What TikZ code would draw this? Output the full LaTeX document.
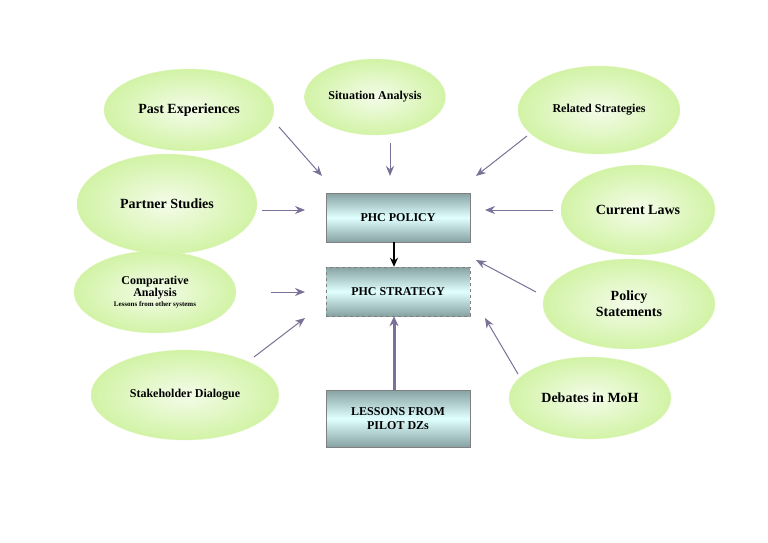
\documentclass[tikz,border=0pt]{standalone}
\usepackage{fontspec}
\setmainfont{Liberation Serif}
\usetikzlibrary{shapes.geometric,arrows.meta}
\definecolor{arr}{HTML}{7A7098}
\definecolor{ellc}{HTML}{D2F3A6}
\newcommand{\fA}{\fontsize{14}{16}\selectfont\bfseries}
\newcommand{\fB}{\fontsize{12}{14}\selectfont\bfseries}
\begin{document}
\begin{tikzpicture}[x=1pt,y=-1pt,
 ell/.style={ellipse,inner color=ellc!25,outer color=ellc,draw=ellc!70!white,line width=0.3pt,font=\fA,align=center},
 box/.style={rectangle,minimum width=144pt,top color=gray!70!cyan!60!black!60,bottom color=gray!70!cyan!60!black!60,middle color=cyan!12,draw=gray,font=\fB,align=center},
 con/.style={draw=arr,line width=1pt,-{Stealth[length=10pt,width=8pt]}}]
\useasboundingbox (0,0) rectangle (768,543);
\node[ell,minimum width=170pt,minimum height=82pt] (pe) at (189,110) {Past Experiences};
\node[ell,minimum width=136pt,minimum height=76pt,font=\fB] (sa) at (375,97) {Situation Analysis};
\node[ell,minimum width=162pt,minimum height=88pt,font=\fB] (rs) at (599,110) {Related Strategies};
\node[ell,minimum width=180pt,minimum height=100pt] (ps) at (167,204) {Partner Studies};
\node[ell,minimum width=154pt,minimum height=90pt] (cl) at (638,210) {Current Laws};
\node[ell,minimum width=162pt,minimum height=82pt,font=\fB] (ca) at (155,292) {Comparative\\[-2pt]Analysis\\[-4pt]\fontsize{7}{8}\selectfont Lessons from other systems};
\node[ell,minimum width=172pt,minimum height=90pt] (pst) at (629,304) {Policy\\Statements};
\node[ell,minimum width=188pt,minimum height=90pt,font=\fB] (sd) at (185,395) {Stakeholder Dialogue};
\node[ell,minimum width=162pt,minimum height=82pt] (dm) at (590,398) {Debates in MoH};
\node[box,minimum height=49pt] (pol) at (398,217.5) {PHC POLICY};
\node[box,minimum height=49pt,dashed] (str) at (398,291.5) {PHC STRATEGY};
\node[box,minimum height=57pt] (les) at (398,418.5) {LESSONS FROM\\PILOT DZs};
\coordinate (a1s) at (279,127); \coordinate (a1e) at (322,176);
\coordinate (a2s) at (390,143); \coordinate (a2e) at (390,176);
\coordinate (a3s) at (527,136); \coordinate (a3e) at (476,176);
\coordinate (a4s) at (262,210); \coordinate (a4e) at (305,210);
\coordinate (a5s) at (553,210); \coordinate (a5e) at (485,210);
\coordinate (a6s) at (271,292); \coordinate (a6e) at (305,292);
\coordinate (a7s) at (536,292); \coordinate (a7e) at (476,260);
\coordinate (a8s) at (254,357); \coordinate (a8e) at (305,318);
\coordinate (a9s) at (518,374); \coordinate (a9e) at (485,318);
\foreach \i in {1,...,9} \draw[con] (a\i s) -- (a\i e);
\draw[line width=1.8pt,-{Stealth[length=9pt,width=8pt]}] (pol.south -| 394,0) -- (str.north -| 394,0);
\draw[draw=arr,line width=3pt,-{Stealth[length=10pt,width=9pt]}] (les.north -| 394,0) -- (str.south -| 394,0);
\end{tikzpicture}
\end{document}
